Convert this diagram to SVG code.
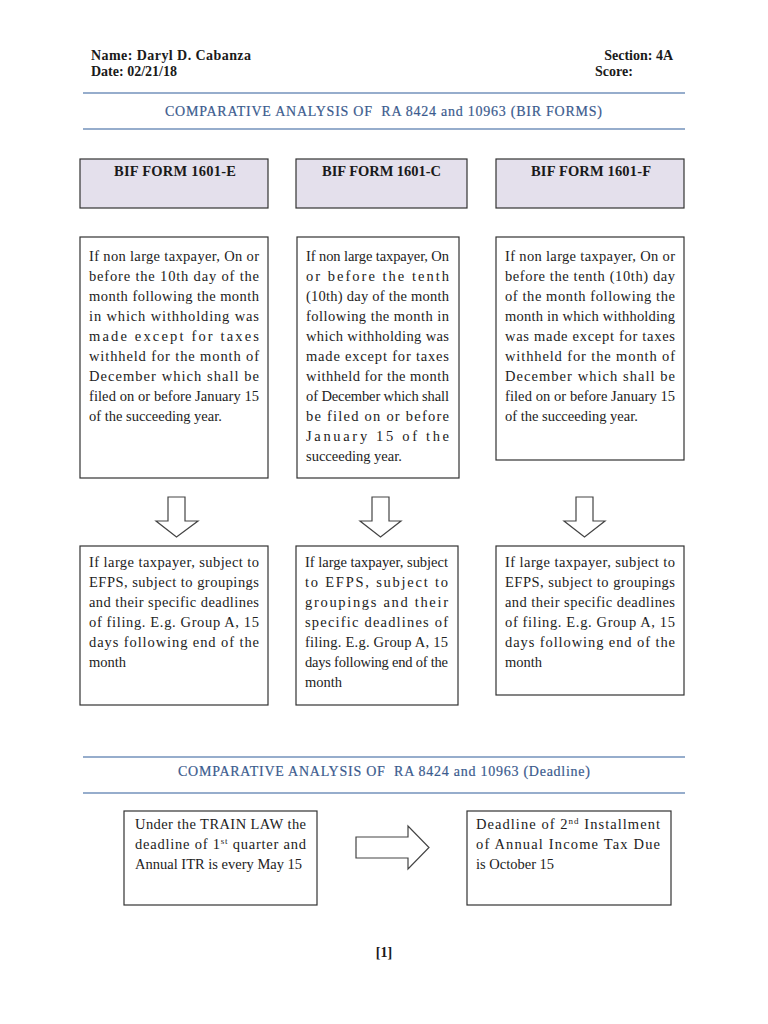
<svg xmlns="http://www.w3.org/2000/svg" width="768" height="1024" viewBox="0 0 768 1024">
<style>
.hdr{font-family:"Liberation Serif",serif;font-size:14px;font-weight:bold;fill:#1a1a1a}
.title{font-family:"Liberation Serif",serif;font-size:14px;fill:#3b5b8e;stroke:#3b5b8e;stroke-width:0.2;white-space:pre}
.rule{stroke:#7392bb;stroke-width:1.3}
.head{fill:#e4e0ec;stroke:#333;stroke-width:1.2}
.box{fill:#fff;stroke:#333;stroke-width:1.2}
.ht{font-family:"Liberation Serif",serif;font-size:14.5px;font-weight:bold;fill:#1a1a1a}
.t{font-family:"Liberation Serif",serif;font-size:14.5px;fill:#222}
.arr{fill:#fff;stroke:#444;stroke-width:1.2;stroke-linejoin:miter}
.sup{font-size:9px}
</style>
<rect width="768" height="1024" fill="#fff"/>
<g id="header">
<text class="hdr" x="91" y="60" textLength="160">Name: Daryl D. Cabanza</text>
<text class="hdr" x="91" y="76">Date: 02/21/18</text>
<text class="hdr" x="673" y="60" text-anchor="end">Section: 4A</text>
<text class="hdr" x="595" y="76">Score:</text>
<line class="rule" x1="83" y1="93" x2="685" y2="93"/>
<text class="title" x="165" y="116" textLength="437">COMPARATIVE ANALYSIS OF  RA 8424 and 10963 (BIR FORMS)</text>
<line class="rule" x1="83" y1="129" x2="685" y2="129"/>
</g>
<g id="head-e"><rect class="head" x="80" y="159" width="188" height="49"/><text class="ht" x="114" y="176" textLength="122">BIF FORM 1601-E</text></g>
<g id="head-c"><rect class="head" x="296" y="159" width="171" height="49"/><text class="ht" x="322" y="176" textLength="119">BIF FORM 1601-C</text></g>
<g id="head-f"><rect class="head" x="496" y="159" width="188" height="49"/><text class="ht" x="531" y="176" textLength="120">BIF FORM 1601-F</text></g>
<g id="nonlarge-e">
<rect class="box" x="80" y="237" width="188" height="241"/>
<text class="t" x="89" y="261" textLength="170">If non large taxpayer, On or</text>
<text class="t" x="89" y="281" textLength="170">before the 10th day of the</text>
<text class="t" x="89" y="301" textLength="170">month following the month</text>
<text class="t" x="89" y="321" textLength="170">in which withholding was</text>
<text class="t" x="89" y="341" textLength="170">made except for taxes</text>
<text class="t" x="89" y="361" textLength="170">withheld for the month of</text>
<text class="t" x="89" y="381" textLength="170">December which shall be</text>
<text class="t" x="89" y="401" textLength="170">filed on or before January 15</text>
<text class="t" x="89" y="421">of the succeeding year.</text>
</g>
<g id="nonlarge-c">
<rect class="box" x="297" y="237" width="162" height="241"/>
<text class="t" x="306" y="261" textLength="143">If non large taxpayer, On</text>
<text class="t" x="306" y="281" textLength="143">or before the tenth</text>
<text class="t" x="306" y="301" textLength="143">(10th) day of the month</text>
<text class="t" x="306" y="321" textLength="143">following the month in</text>
<text class="t" x="306" y="341" textLength="143">which withholding was</text>
<text class="t" x="306" y="361" textLength="143">made except for taxes</text>
<text class="t" x="306" y="381" textLength="143">withheld for the month</text>
<text class="t" x="306" y="401" textLength="143">of December which shall</text>
<text class="t" x="306" y="421" textLength="143">be filed on or before</text>
<text class="t" x="306" y="441" textLength="143">January 15 of the</text>
<text class="t" x="306" y="461">succeeding year.</text>
</g>
<g id="nonlarge-f">
<rect class="box" x="496" y="237" width="188" height="223"/>
<text class="t" x="505" y="261" textLength="170">If non large taxpayer, On or</text>
<text class="t" x="505" y="281" textLength="170">before the tenth (10th) day</text>
<text class="t" x="505" y="301" textLength="170">of the month following the</text>
<text class="t" x="505" y="321" textLength="170">month in which withholding</text>
<text class="t" x="505" y="341" textLength="170">was made except for taxes</text>
<text class="t" x="505" y="361" textLength="170">withheld for the month of</text>
<text class="t" x="505" y="381" textLength="170">December which shall be</text>
<text class="t" x="505" y="401" textLength="170">filed on or before January 15</text>
<text class="t" x="505" y="421">of the succeeding year.</text>
</g>
<g id="large-e">
<rect class="box" x="80" y="546" width="188" height="159"/>
<text class="t" x="89" y="567" textLength="170">If large taxpayer, subject to</text>
<text class="t" x="89" y="587" textLength="170">EFPS, subject to groupings</text>
<text class="t" x="89" y="607" textLength="170">and their specific deadlines</text>
<text class="t" x="89" y="627" textLength="170">of filing. E.g. Group A, 15</text>
<text class="t" x="89" y="647" textLength="170">days following end of the</text>
<text class="t" x="89" y="667">month</text>
</g>
<g id="large-c">
<rect class="box" x="296" y="546" width="162" height="159"/>
<text class="t" x="305" y="567" textLength="143">If large taxpayer, subject</text>
<text class="t" x="305" y="587" textLength="143">to EFPS, subject to</text>
<text class="t" x="305" y="607" textLength="143">groupings and their</text>
<text class="t" x="305" y="627" textLength="143">specific deadlines of</text>
<text class="t" x="305" y="647" textLength="143">filing. E.g. Group A, 15</text>
<text class="t" x="305" y="667" textLength="143">days following end of the</text>
<text class="t" x="305" y="687">month</text>
</g>
<g id="large-f">
<rect class="box" x="496" y="546" width="188" height="149"/>
<text class="t" x="505" y="567" textLength="170">If large taxpayer, subject to</text>
<text class="t" x="505" y="587" textLength="170">EFPS, subject to groupings</text>
<text class="t" x="505" y="607" textLength="170">and their specific deadlines</text>
<text class="t" x="505" y="627" textLength="170">of filing. E.g. Group A, 15</text>
<text class="t" x="505" y="647" textLength="170">days following end of the</text>
<text class="t" x="505" y="667">month</text>
</g>
<g id="section2">
<line class="rule" x1="83" y1="757" x2="685" y2="757"/>
<text class="title" x="178" y="776" textLength="412">COMPARATIVE ANALYSIS OF  RA 8424 and 10963 (Deadline)</text>
<line class="rule" x1="83" y1="793" x2="685" y2="793"/>
</g>
<g id="train-law">
<rect class="box" x="124" y="811" width="193" height="94"/>
<text class="t" x="135" y="829" textLength="171">Under the TRAIN LAW the</text>
<text class="t" x="135" y="849" textLength="171">deadline of 1<tspan class="sup" dy="-5">st</tspan><tspan dy="5"> quarter and</tspan></text>
<text class="t" x="135" y="869">Annual ITR is every May 15</text>
</g>
<g id="second-installment">
<rect class="box" x="467" y="811" width="204" height="94"/>
<text class="t" x="476" y="829" textLength="184">Deadline of 2<tspan class="sup" dy="-5">nd</tspan><tspan dy="5"> Installment</tspan></text>
<text class="t" x="476" y="849" textLength="184">of Annual Income Tax Due</text>
<text class="t" x="476" y="869">is October 15</text>
</g>
<g id="connectors">
<polygon class="arr" points="168,497 185,497 185,521 198,521 176.5,537 156,521 168,521"/>
<polygon class="arr" points="372,497 389,497 389,521 401,521 380.5,537 360,521 372,521"/>
<polygon class="arr" points="576,497 593,497 593,521 605,521 584.5,537 564,521 576,521"/>
<polygon class="arr" points="356,837 408,837 408,826 429,847.5 408,869 408,858 356,858"/>
</g>
<text class="hdr" x="384" y="957" text-anchor="middle" font-size="12">[1]</text>
</svg>
